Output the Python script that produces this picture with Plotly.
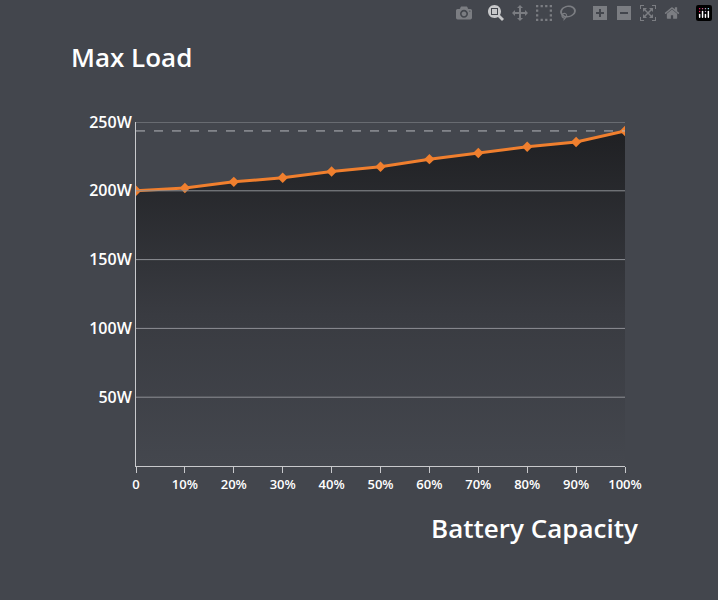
import plotly.graph_objects as go

x_vals = [0, 10, 20, 30, 40, 50, 60, 70, 80, 90, 100]
x_labels = ["0", "10%", "20%", "30%", "40%", "50%", "60%", "70%", "80%", "90%", "100%"]
load = [200, 202, 206.5, 209.5, 214, 217.5, 223, 227.5, 232, 235.5, 243.5]
y_ticks = [50, 100, 150, 200, 250]
y_labels = ["50W", "100W", "150W", "200W", "250W"]
max_line = 243.5

bg = "#43464d"
fig = go.Figure()
fig.add_trace(go.Scatter(
    x=x_vals, y=load, mode="lines",
    line=dict(width=0),
    fill="tozeroy",
    fillgradient=dict(type="vertical", colorscale=[[0, "#44474e"], [0.45, "#393b41"], [1, "#1f2023"]]),
    hoverinfo="skip", showlegend=False))
for t in y_ticks:
    fig.add_shape(type="line", x0=0, x1=100, y0=t, y1=t, xref="x", yref="y", layer="above",
                  line=dict(color="#8e9095", width=1))
fig.add_shape(type="line", x0=0, x1=100, y0=max_line, y1=max_line, xref="x", yref="y", layer="above",
              line=dict(color="#b5b7bb", width=1, dash="dash"))
fig.add_trace(go.Scatter(
    x=x_vals, y=load, mode="lines+markers",
    line=dict(color="#f07f2e", width=3),
    marker=dict(symbol="diamond", size=8, color="#f07f2e"),
    hoverinfo="skip", showlegend=False))
fig.update_layout(
    width=718, height=600, paper_bgcolor=bg, plot_bgcolor=bg,
    margin=dict(l=136, r=93, t=122, b=134),
    font=dict(family="Open Sans", color="white"),
    annotations=[
        dict(text="Max Load", x=-0.138, y=1.19, xref="paper", yref="paper", showarrow=False,
             xanchor="left", yanchor="middle", font=dict(size=26, color="white", weight=600)),
        dict(text="Battery Capacity", x=1.03, y=-0.18, xref="paper", yref="paper", showarrow=False,
             xanchor="right", yanchor="middle", font=dict(size=26, color="white", weight=600)),
    ],
)
fig.update_xaxes(range=[0, 100], tickvals=x_vals, ticktext=x_labels, showgrid=False,
                 showline=True, linecolor="#c8c9cc", ticks="outside", tickcolor="#c8c9cc",
                 ticklen=6, tickfont=dict(size=13, color="white", weight=600), zeroline=False)
fig.update_yaxes(range=[0, 250], tickvals=y_ticks, ticktext=y_labels, showgrid=False,
                 showline=True, linecolor="#c8c9cc",
                 ticks="", tickfont=dict(size=16, color="white", weight=600), zeroline=False)
fig.write_html("out.html")
with open("out.html", encoding="utf-8") as f:
    html = f.read()
html = html.replace("<body>", '<body style="margin:0">', 1)
with open("out.html", "w", encoding="utf-8") as f:
    f.write(html)
